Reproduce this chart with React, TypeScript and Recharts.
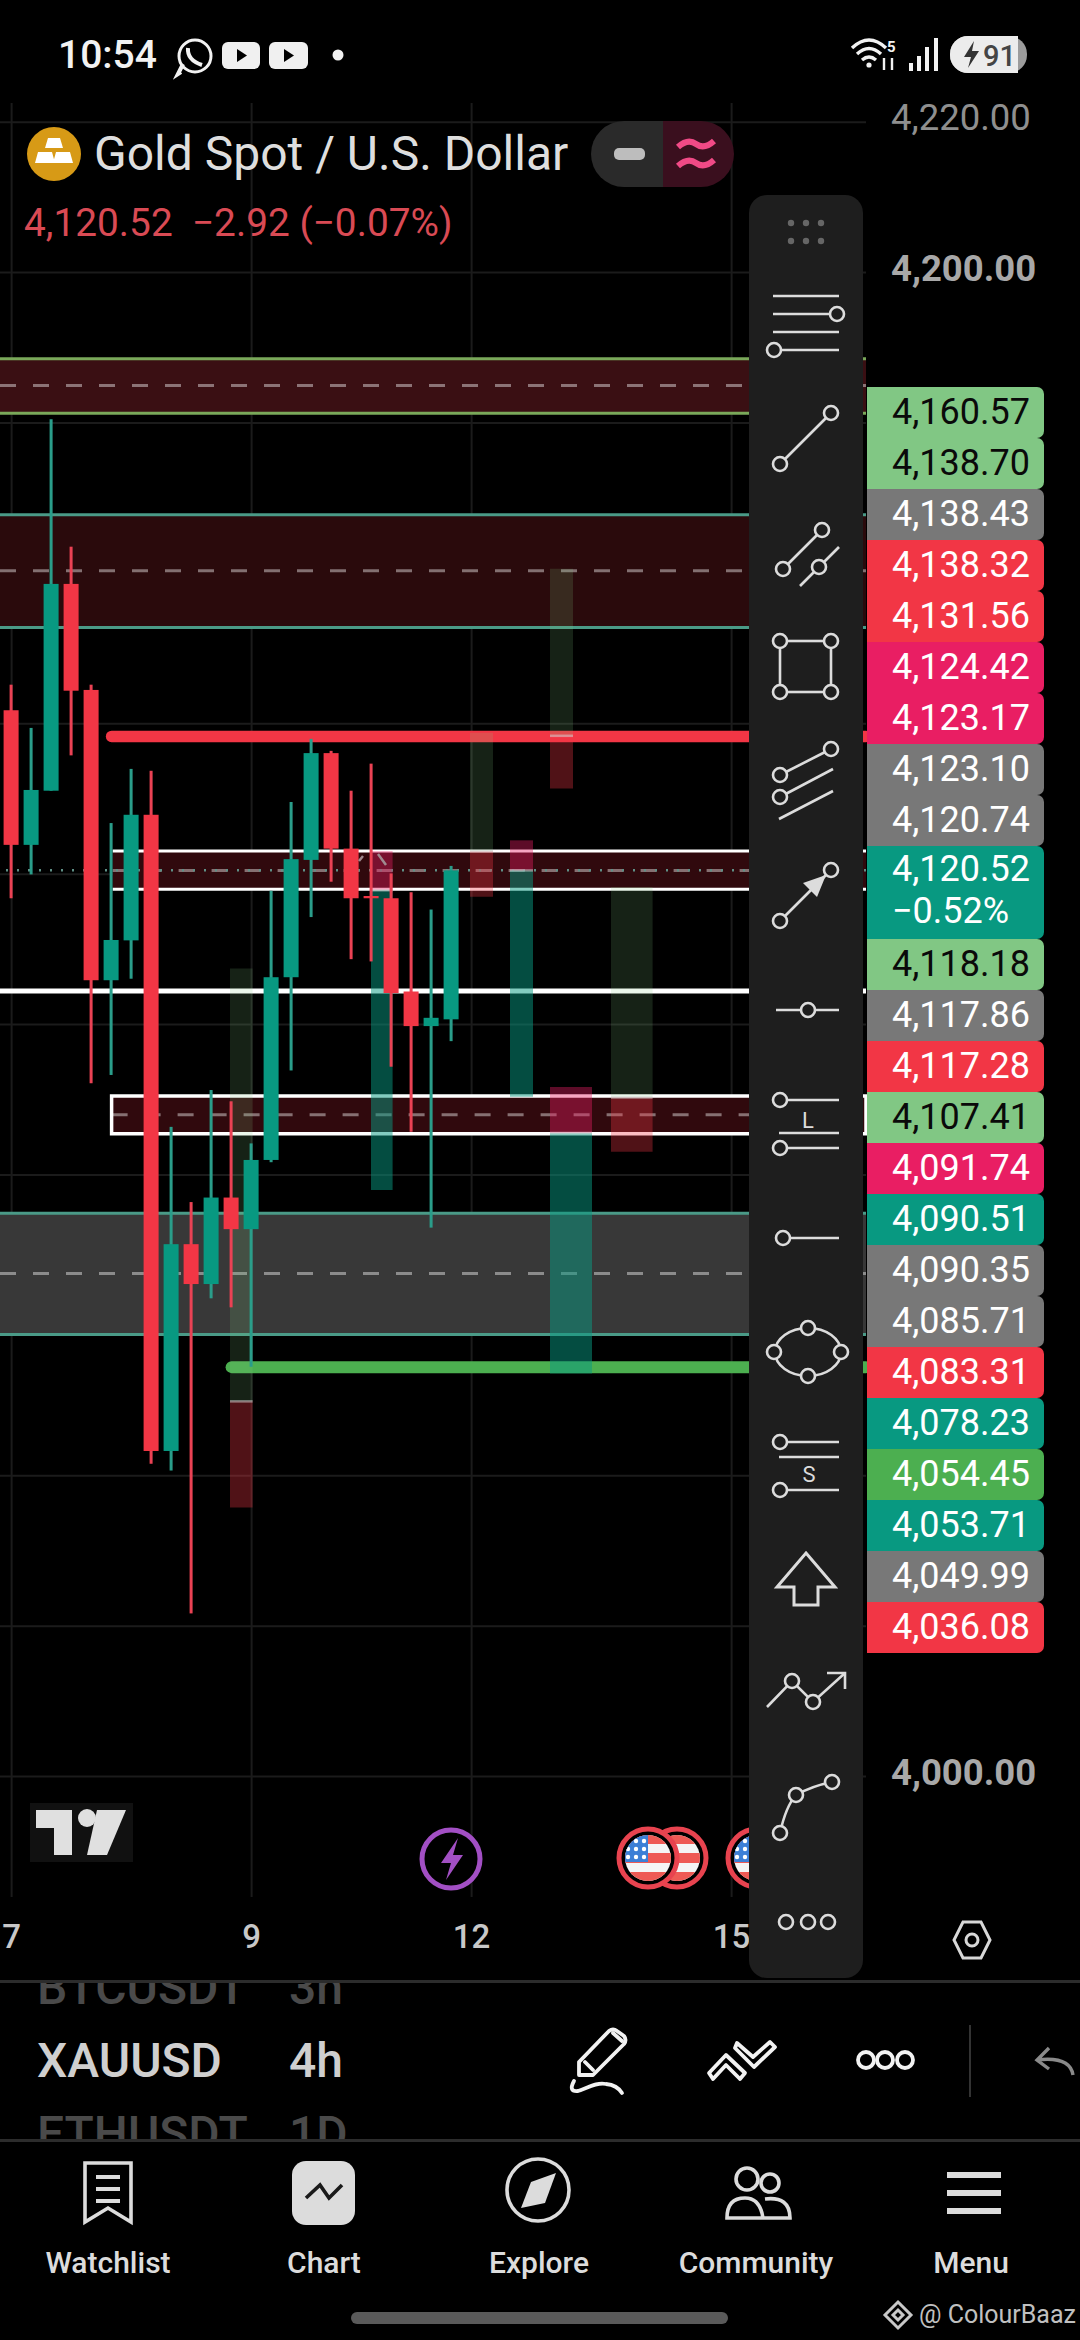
import { Bar, CartesianGrid, ComposedChart, ReferenceArea, ReferenceLine, XAxis, YAxis } from "recharts";

const FONT = "Roboto, sans-serif";
const GREEN = "#089981";
const RED = "#f23645";

// 4h candles
const candleOpen = [4141.8, 4123.9, 4131.1, 4158.6, 4144.5, 4105.9, 4111.2, 4127.9, 4043.3, 4070.8, 4065.5, 4077.0, 4072.8, 4082.0, 4106.3, 4121.9, 4136.1, 4123.4, 4117.1, 4116.8, 4104.4, 4099.8, 4100.7];
const candleClose = [4123.9, 4131.2, 4158.6, 4144.4, 4105.9, 4111.25, 4127.9, 4043.3, 4070.8, 4065.5, 4077.0, 4072.8, 4082.0, 4106.3, 4122.0, 4136.1, 4123.4, 4116.8, 4116.8, 4104.2, 4099.8, 4100.9, 4120.5];
const candleHigh = [4145.2, 4139.45, 4180.5, 4163.55, 4145.2, 4126.8, 4134.0, 4133.75, 4086.4, 4076.4, 4091.3, 4089.8, 4084.2, 4117.8, 4129.6, 4138.0, 4136.4, 4131.1, 4134.7, 4120.1, 4117.6, 4115.3, 4121.1];
const candleLow = [4116.8, 4119.97, 4131.1, 4135.8, 4092.2, 4093.3, 4106.1, 4041.6, 4040.7, 4021.7, 4063.6, 4062.4, 4054.5, 4081.7, 4093.9, 4114.3, 4119.0, 4108.7, 4108.4, 4094.4, 4085.75, 4073.0, 4097.8];

const timeTicks = [0, 12, 23, 36];
const timeLabels = ["7", "9", "12", "15"];
const priceTicks = [4000, 4200, 4220];
const gridPrices = [4000, 4020, 4040, 4060, 4080, 4100, 4120, 4140, 4160, 4180, 4200, 4220];

const X_MIN = -0.58;
const X_MAX = 42.72;

// [start bar, top price, middle price, bottom price]
const redZoneA = [X_MIN, 4188.55, 4185.0, 4181.3];
const redZoneB = [X_MIN, 4167.8, 4160.35, 4152.8];
const whiteZoneA = [5.05, 4123.1, 4120.5, 4118.0];
const whiteZoneB = [5.0, 4090.5, 4088.0, 4085.5];
const greyZone = [X_MIN, 4074.9, 4066.9, 4058.8];

const lastPrice = 4120.52;
const resistance = [5.0, 4138.32];
const support = [11.0, 4054.45];
const whiteLevel = 4104.47;

// [from bar, to bar, top price, split price, bottom price]
const longBoxes = [
  [26.92, 28.07, 4160.6, 4138.4, 4131.4],
  [22.92, 24.07, 4138.8, 4123.06, 4117.0],
  [29.97, 32.05, 4118.3, 4090.3, 4083.1],
  [10.92, 12.05, 4107.45, 4049.9, 4035.8],
];
const shortBoxes = [
  [24.92, 26.07, 4124.5, 4120.5, 4090.4],
  [26.92, 29.02, 4091.7, 4085.6, 4053.6],
  [17.97, 19.05, 4123.06, 4117.86, 4078.0],
];

// price badges on the right, top to bottom
const badgeValues = ["4,160.57", "4,138.70", "4,138.43", "4,138.32", "4,131.56", "4,124.42", "4,123.17", "4,123.10", "4,120.74", "4,120.52", "4,118.18", "4,117.86", "4,117.28", "4,107.41", "4,091.74", "4,090.51", "4,090.35", "4,085.71", "4,083.31", "4,078.23", "4,054.45", "4,053.71", "4,049.99", "4,036.08"];
const badgeKinds = ["l", "l", "g", "r", "r", "p", "p", "g", "g", "t", "l", "g", "r", "l", "p", "t", "g", "g", "r", "t", "s", "t", "g", "r"];
const badgeFill: Record<string, string> = { l: "#81c784", g: "#787878", r: RED, p: "#e91e63", t: GREEN, s: "#4caf50" };

const candles = candleOpen.map((open, i) => ({
  bar: i,
  open,
  close: candleClose[i],
  range: [candleLow[i], candleHigh[i]],
}));

function Candle(props: any) {
  const { x, y, width, height, payload } = props;
  const [low, high] = payload.range;
  const perUnit = Math.abs(height) / (high - low);
  const top = y + (high - Math.max(payload.open, payload.close)) * perUnit;
  const bottom = y + (high - Math.min(payload.open, payload.close)) * perUnit;
  const up = payload.close >= payload.open;
  return (
    <g>
      <rect x={x + width / 2 - 1.5} y={y} width={3} height={Math.abs(height)} fill={up ? "#2a9d8a" : "#ea4254"} />
      <rect x={x} y={top} width={width} height={Math.max(bottom - top, 2)} fill={up ? GREEN : RED} />
    </g>
  );
}

function PriceTick({ x, y, payload }: any) {
  const bold = payload.value !== 4220;
  return (
    <text x={x + 17} y={y + 8} fontFamily={FONT} fontSize={36.5} fontWeight={bold ? 700 : 400} fill={bold ? "#a8a8a8" : "#8f8f8f"}>
      {payload.value.toLocaleString("en-US", { minimumFractionDigits: 2 })}
    </text>
  );
}

const zoneAreas = (zone: number[], fill: string, line: string, key: string) => [
  <ReferenceArea key={key + "a"} x1={zone[0]} x2={X_MAX} y1={zone[3]} y2={zone[1]} fill={fill} fillOpacity={1} stroke="none" zIndex={10} />,
  <ReferenceLine key={key + "t"} segment={[{ x: zone[0], y: zone[1] }, { x: X_MAX, y: zone[1] }]} stroke={line} strokeWidth={3} zIndex={20} />,
  <ReferenceLine key={key + "b"} segment={[{ x: zone[0], y: zone[3] }, { x: X_MAX, y: zone[3] }]} stroke={line} strokeWidth={3} zIndex={20} />,
  <ReferenceLine key={key + "m"} segment={[{ x: zone[0], y: zone[2] }, { x: X_MAX, y: zone[2] }]} stroke="rgba(255,255,255,0.42)" strokeWidth={3} strokeDasharray="16 17" zIndex={20} />,
];

const boxAreas = (box: number[], upper: string, lower: string, key: string) => [
  <ReferenceArea key={key + "u"} x1={box[0]} x2={box[1]} y1={box[3]} y2={box[2]} fill={upper} fillOpacity={1} stroke="none" zIndex={30} />,
  <ReferenceArea key={key + "l"} x1={box[0]} x2={box[1]} y1={box[4]} y2={box[3]} fill={lower} fillOpacity={1} stroke="none" zIndex={30} />,
  <ReferenceLine key={key + "s"} segment={[{ x: box[0], y: box[3] }, { x: box[1], y: box[3] }]} stroke="rgba(210,210,210,0.55)" strokeWidth={2.5} zIndex={31} />,
];

const BOX_GREEN = "rgba(129,199,132,0.17)";
const BOX_RED = "rgba(242,54,69,0.33)";
const BOX_TEAL = "rgba(8,153,129,0.5)";
const BOX_PINK = "rgba(233,30,99,0.4)";

function PriceChart() {
  return (
    <ComposedChart width={1080} height={2000} data={candles} margin={{ top: 103, right: 0, bottom: 0, left: 0 }} style={{ position: "absolute", left: 0, top: 0 }}>
      <CartesianGrid stroke="#1b1b1b" strokeWidth={2} horizontalValues={gridPrices} verticalValues={timeTicks} />
      <XAxis
        dataKey="bar"
        type="number"
        scale="linear"
        domain={[X_MIN, X_MAX]}
        ticks={timeTicks}
        tickFormatter={(v: number) => timeLabels[timeTicks.indexOf(v)]}
        allowDataOverflow
        height={103}
        axisLine={false}
        tickLine={false}
        tickMargin={22}
        tick={{ fill: "#c8c8c8", fontSize: 33, fontFamily: FONT, fontWeight: 500 }}
        interval={0}
      />
      <YAxis orientation="right" width={214} type="number" domain={[3983.99, 4222.55]} ticks={priceTicks} allowDataOverflow axisLine={false} tickLine={false} tick={PriceTick} interval={0} />

      {zoneAreas(redZoneA, "#3a0f13", "#7aa85a", "za")}
      {zoneAreas(redZoneB, "#2a0a0c", "#4a9a87", "zb")}
      {zoneAreas(whiteZoneA, "#30090d", "#ffffff", "zc")}
      <ReferenceArea x1={whiteZoneB[0]} x2={X_MAX} y1={whiteZoneB[3]} y2={whiteZoneB[1]} fill="#30090d" fillOpacity={1} stroke="#ffffff" strokeWidth={3.5} zIndex={10} />
      <ReferenceLine segment={[{ x: whiteZoneB[0], y: whiteZoneB[2] }, { x: X_MAX, y: whiteZoneB[2] }]} stroke="rgba(255,255,255,0.42)" strokeWidth={3} strokeDasharray="16 17" zIndex={20} />
      {zoneAreas(greyZone, "#383838", "#4a9a87", "zd")}

      <ReferenceLine y={lastPrice} stroke="#5f8f86" strokeWidth={2.5} strokeDasharray="2 9" zIndex={20} />
      <ReferenceLine y={whiteLevel} stroke="#ffffff" strokeWidth={5} zIndex={20} />
      <ReferenceLine segment={[{ x: resistance[0], y: resistance[1] }, { x: X_MAX, y: resistance[1] }]} stroke={RED} strokeWidth={11.5} strokeLinecap="round" zIndex={21} />
      <ReferenceLine segment={[{ x: support[0], y: support[1] }, { x: X_MAX, y: support[1] }]} stroke="#4caf50" strokeWidth={12} strokeLinecap="round" zIndex={21} />

      {longBoxes.map((b, i) => boxAreas(b, BOX_GREEN, BOX_RED, "long" + i))}
      {shortBoxes.map((b, i) => boxAreas(b, BOX_PINK, BOX_TEAL, "short" + i))}

      <Bar dataKey="range" barSize={15} shape={Candle} isAnimationActive={false} zIndex={40} />
    </ComposedChart>
  );
}

function Badges() {
  let top = 387;
  return (
    <>
      {badgeValues.map((value, i) => {
        const double = value === "4,120.52";
        const kind = badgeKinds[i];
        const h = double ? 93 : 51;
        const el = (
          <div
            key={value}
            style={{
              position: "absolute",
              left: 867,
              top,
              width: 177,
              height: h,
              background: badgeFill[kind],
              color: kind === "l" ? "#0a0a0a" : "#ffffff",
              borderRadius: "0 7px 7px 0",
              fontFamily: FONT,
              fontSize: 36,
              lineHeight: double ? "42px" : "50px",
              paddingLeft: 25,
              boxSizing: "border-box",
              paddingTop: double ? 2 : 0,
              whiteSpace: "pre",
            }}
          >
            {double ? value + "\n−0.52%" : value}
          </div>
        );
        top += h;
        return el;
      })}
    </>
  );
}

const toolColor = "#dcdcdc";

function Node({ x, y, r = 7 }: { x: number; y: number; r?: number }) {
  return <circle cx={x} cy={y} r={r} fill="#1e1e1e" stroke={toolColor} strokeWidth={2.6} />;
}

function Seg({ p }: { p: number[] }) {
  return <line x1={p[0]} y1={p[1]} x2={p[2]} y2={p[3]} stroke={toolColor} strokeWidth={2.6} />;
}

function Toolbar() {
  return (
    <g>
      <rect x={749} y={195} width={114} height={1783} rx={18} fill="#1e1e1e" />
      {[791, 806, 821].map((x) => [223, 241].map((y) => <circle key={x + "-" + y} cx={x} cy={y} r={3.2} fill="#666" />))}

      <Seg p={[773, 296, 839, 296]} />
      <Seg p={[773, 314, 839, 314]} />
      <Seg p={[773, 332, 839, 332]} />
      <Seg p={[773, 350, 839, 350]} />
      <Node x={837} y={314} />
      <Node x={774} y={350} />

      <Seg p={[780, 464, 831, 413]} />
      <Node x={780} y={464} />
      <Node x={831} y={413} />

      <Seg p={[783, 569, 822, 530]} />
      <Seg p={[800, 586, 839, 547]} />
      <Node x={783} y={569} />
      <Node x={822} y={530} />
      <Node x={819} y={567} />

      <rect x={780} y={641} width={51} height={51} fill="none" stroke={toolColor} strokeWidth={2.6} />
      <Node x={780} y={641} />
      <Node x={831} y={641} />
      <Node x={780} y={692} />
      <Node x={831} y={692} />

      <Seg p={[780, 775, 831, 749]} />
      <Seg p={[780, 797, 833, 769]} />
      <Seg p={[779, 819, 833, 791]} />
      <Node x={780} y={775} />
      <Node x={780} y={797} />
      <Node x={831} y={749} />

      <Seg p={[780, 921, 831, 870]} />
      <polygon points="803,883 826,875 817,897" fill={toolColor} />
      <Node x={780} y={921} />
      <Node x={831} y={870} />

      <Seg p={[776, 1010, 839, 1010]} />
      <Node x={808} y={1010} />

      <Seg p={[780, 1100, 839, 1100]} />
      <Seg p={[779, 1133, 839, 1133]} />
      <Seg p={[780, 1148, 839, 1148]} />
      <Node x={780} y={1100} />
      <Node x={780} y={1148} />
      <text x={808} y={1128} fill={toolColor} fontFamily={FONT} fontSize={22} textAnchor="middle">L</text>

      <Seg p={[783, 1238, 839, 1238]} />
      <Node x={783} y={1238} />

      <ellipse cx={808} cy={1352} rx={33} ry={24} fill="none" stroke={toolColor} strokeWidth={2.6} />
      <Node x={808} y={1328} />
      <Node x={774} y={1352} />
      <Node x={841} y={1352} />
      <Node x={808} y={1376} />

      <Seg p={[780, 1442, 839, 1442]} />
      <Seg p={[779, 1457, 839, 1457]} />
      <Seg p={[780, 1490, 839, 1490]} />
      <Node x={780} y={1442} />
      <Node x={780} y={1490} />
      <text x={809} y={1482} fill={toolColor} fontFamily={FONT} fontSize={22} textAnchor="middle">S</text>

      <polygon points="806,1553 835,1587 818,1587 818,1605 794,1605 794,1587 777,1587" fill="none" stroke={toolColor} strokeWidth={3} />

      <polyline points="767,1707 792,1681 813,1702 845,1673" fill="none" stroke={toolColor} strokeWidth={2.6} />
      <polyline points="827,1673 845,1673 845,1689" fill="none" stroke={toolColor} strokeWidth={2.6} />
      <Node x={792} y={1681} />
      <Node x={813} y={1702} />

      <path d="M780,1833 Q786,1806 796,1795 Q812,1786 832,1782" fill="none" stroke={toolColor} strokeWidth={2.6} />
      <Node x={780} y={1833} />
      <Node x={796} y={1795} />
      <Node x={832} y={1782} />

      <Node x={786} y={1922} />
      <Node x={808} y={1922} />
      <Node x={828} y={1922} />
    </g>
  );
}

function StatusBar() {
  return (
    <g>
      <text x={58} y={68} fill="#f2f2f2" fontFamily={FONT} fontSize={39} fontWeight={500}>10:54</text>
      <circle cx={195} cy={56} r={16} fill="none" stroke="#f2f2f2" strokeWidth={3} />
      <path d="M181,72 L178,74 L183,64 M188,48 Q187,60 202,65" fill="none" stroke="#f2f2f2" strokeWidth={4} />
      <rect x={222} y={42} width={38} height={27} rx={6} fill="#f0f0f0" />
      <polygon points="237,49 237,62 247,55.5" fill="#000" />
      <rect x={269} y={42} width={39} height={27} rx={6} fill="#f0f0f0" />
      <polygon points="284,49 284,62 294,55.5" fill="#000" />
      <circle cx={338} cy={55} r={5.5} fill="#f2f2f2" />

      <path d="M852,48 Q869,32 886,48 M857,54 Q869,43 881,54 M862,60 Q869,54 876,60" fill="none" stroke="#f2f2f2" strokeWidth={3.4} />
      <circle cx={869} cy={65} r={2.6} fill="#f2f2f2" />
      <text x={887} y={52} fill="#f2f2f2" fontFamily={FONT} fontSize={15} fontWeight={700}>5</text>
      <path d="M884,58 V70 M892,58 V70" stroke="#f2f2f2" strokeWidth={2.4} />
      {[[909, 63], [917, 56], [925, 47], [934, 38]].map(([x, y]) => <rect key={x} x={x} y={y} width={4} height={71 - y} fill="#f2f2f2" />)}
      <rect x={950} y={36} width={77} height={37} rx={18} fill="#9c9c9c" />
      <path d="M950,54 a18,18 0 0 1 18,-18 H1018 V73 H968 a18,18 0 0 1 -18,-18 Z" fill="#ececec" />
      <polygon points="974,41 964,57 971,57 968,68 979,51 972,51" fill="#333" />
      <text x={983} y={66} fill="#444" fontFamily={FONT} fontSize={29} fontWeight={500}>91</text>
    </g>
  );
}

function Header() {
  return (
    <g>
      <circle cx={54} cy={154} r={27} fill="#d79a16" />
      <polygon points="48,138 60,138 63,148 45,148" fill="#fff" />
      <polygon points="38,152 52,152 55,163 35,163" fill="#fff" />
      <polygon points="56,152 70,152 73,163 53,163" fill="#fff" />
      <text x={94} y={170} fill="#dedede" fontFamily={FONT} fontSize={48}>Gold Spot / U.S. Dollar</text>
      <path d="M663,121 H624 a33,33 0 0 0 0,66 H663 Z" fill="#2a2a2a" />
      <path d="M663,121 H701 a33,33 0 0 1 0,66 H663 Z" fill="#3a0f1e" />
      <rect x={614} y={148} width={31} height={12} rx={5} fill="#bdbdbd" />
      <path d="M678,147 Q688,138 696,144 T714,141 M678,166 Q688,157 696,163 T714,160" fill="none" stroke="#f04a86" strokeWidth={6} />
      <text x={24} y={236} fill="#d94a54" fontFamily={FONT} fontSize={38.8} xmlSpace="preserve">4,120.52  −2.92 (−0.07%)</text>
    </g>
  );
}

function Flag({ id, cx, offset = 0 }: { id: string; cx: number; offset?: number }) {
  return (
    <g>
      <circle cx={cx} cy={1858} r={29} fill="#000" stroke="#e8434f" strokeWidth={5} />
      <clipPath id={id}><circle cx={cx} cy={1858} r={23} /></clipPath>
      <g clipPath={`url(#${id})`}>
        <rect x={cx - 24} y={1835} width={48} height={46} fill="#f5f5f5" />
        <rect x={cx - 24} y={1835} width={48} height={9} fill="#ee5a55" />
        <rect x={cx - 24} y={1853} width={48} height={10} fill="#ee5a55" />
        <rect x={cx - 24} y={1872} width={48} height={10} fill="#ee5a55" />
        <rect x={cx - 24 + offset} y={1835} width={24} height={27} fill="#3c7fd6" />
        {[0, 8, 16].map((dx) => [1841, 1849, 1857].map((y) => (
          <circle key={dx + "-" + y} cx={cx - 20 + dx + offset} cy={y} r={2.2} fill="#fff" />
        )))}
      </g>
    </g>
  );
}

function Events() {
  return (
    <g>
      <rect x={30} y={1803} width={103} height={59} fill="#111" />
      <polygon points="36,1810 72,1810 72,1855 54,1855 54,1828 36,1828" fill="#e0e0e0" />
      <circle cx={87} cy={1818} r={9} fill="#e0e0e0" />
      <polygon points="97,1810 126,1810 107,1855 87,1855" fill="#e0e0e0" />
      <circle cx={451} cy={1859} r={29} fill="#000" stroke="#a24fc4" strokeWidth={5} />
      <polygon points="458,1838 441,1863 451,1863 446,1880 463,1855 453,1855" fill="#a24fc4" />
      <Flag id="flagBack" cx={677} offset={-40} />
      <Flag id="flagFront" cx={648} />
      <Flag id="flagThird" cx={757} />
    </g>
  );
}

function BottomBars() {
  return (
    <g>
      <rect x={0} y={1980} width={1080} height={3} fill="#2c2c2c" />
      <rect x={0} y={2139} width={1080} height={3} fill="#2c2c2c" />
      <clipPath id="wheel"><rect x={0} y={1983} width={360} height={156} /></clipPath>
      <g clipPath="url(#wheel)" fontFamily={FONT} fontWeight={500} fontSize={48}>
        <text x={37} y={2004} fill="#4a4a4a">BTCUSDT</text>
        <text x={289} y={2004} fill="#4a4a4a">3h</text>
        <text x={37} y={2077} fill="#cfcfcf">XAUUSD</text>
        <text x={289} y={2077} fill="#cfcfcf">4h</text>
        <text x={37} y={2150} fill="#4a4a4a">ETHUSDT</text>
        <text x={289} y={2150} fill="#4a4a4a">1D</text>
      </g>
      <g fill="none" stroke="#f2f2f2" strokeWidth={3.8} strokeLinejoin="round" strokeLinecap="round">
        <path d="M579,2075 V2062 L609,2031 Q613,2028 617,2031 L624,2036 Q627,2040 624,2044 L593,2075 Z" />
        <path d="M585,2062 L593,2070 M613,2033 L622,2041" />
        <path d="M574,2081 Q568,2092 578,2091 C588,2088 596,2082 606,2084 Q617,2085 622,2093" />
        <polygon points="709,2073 726,2055 745,2073 740,2079 726,2065 713,2079" />
        <polygon points="737,2043 753,2057 770,2042 775,2047 754,2067 735,2048" />
        <circle cx={866} cy={2060} r={8} />
        <circle cx={885} cy={2060} r={8} />
        <circle cx={905} cy={2060} r={8} />
      </g>
      <rect x={969} y={2025} width={2} height={72} fill="#333" />
      <path d="M1049,2048 L1037,2060 L1049,2069 M1037,2060 Q1070,2056 1073,2075" fill="none" stroke="#8a8a8a" strokeWidth={3.4} />

      <g fill="none" stroke="#dcdcdc" strokeWidth={3.6}>
        <path d="M85,2163 H131 V2222 L108,2208 L85,2222 Z" />
        <path d="M96,2177 H120 M96,2189 H120 M96,2201 H120" strokeWidth={4} />
        <circle cx={538} cy={2190} r={31} />
        <circle cx={747} cy={2179} r={11} />
        <circle cx={770} cy={2183} r={9} />
        <path d="M727,2218 Q727,2198 745,2198 Q760,2198 763,2218 Z M765,2199 Q790,2196 790,2218 H763" />
      </g>
      <rect x={292} y={2161} width={63} height={64} rx={14} fill="#dcdcdc" />
      <polyline points="306,2198 320,2185 329,2198 342,2185" fill="none" stroke="#1a1a1a" strokeWidth={3.6} />
      <polygon points="556,2173 545,2203 521,2208 531,2182" fill="#dcdcdc" />
      {[2175, 2193, 2211].map((y) => <rect key={y} x={947} y={y - 3} width={54} height={6} fill="#dcdcdc" />)}
      <g fill="#dcdcdc" fontFamily={FONT} fontSize={30} fontWeight={500} textAnchor="middle">
        <text x={108} y={2273}>Watchlist</text>
        <text x={324} y={2273}>Chart</text>
        <text x={539} y={2273}>Explore</text>
        <text x={756} y={2273}>Community</text>
        <text x={971} y={2273}>Menu</text>
      </g>
      <rect x={351} y={2312} width={377} height={12} rx={6} fill="#5a5a5a" />
      <g fill="none" stroke="#c8c8c8" strokeWidth={3}>
        <polygon points="898,2302 911,2315 898,2328 885,2315" />
        <polygon points="898,2310 903,2315 898,2320 893,2315" />
      </g>
      <text x={919} y={2323} fill="#c0c0c0" fontFamily={FONT} fontSize={25}>@ ColourBaaz</text>

      <polygon points="972,1922 990,1931 990,1949 972,1958 954,1949 954,1931" fill="none" stroke="#d8d8d8" strokeWidth={3} transform="rotate(90 972 1940)" />
      <circle cx={972} cy={1940} r={6} fill="none" stroke="#d8d8d8" strokeWidth={3} />
      {/* small drawing marks left on the chart */}
      <path d="M378,854 L386,865 M359,861 L363,856" stroke="#a08a90" strokeWidth={2.5} />
    </g>
  );
}

export default function App() {
  return (
    <div style={{ position: "absolute", left: 0, top: 0, width: 1080, height: 2340, background: "#000", overflow: "hidden" }}>
      <PriceChart />
      <svg width={1080} height={2340} style={{ position: "absolute", left: 0, top: 0 }}>
        <Events />
        <Header />
        <StatusBar />
        <BottomBars />
        <Toolbar />
      </svg>
      <Badges />
    </div>
  );
}
